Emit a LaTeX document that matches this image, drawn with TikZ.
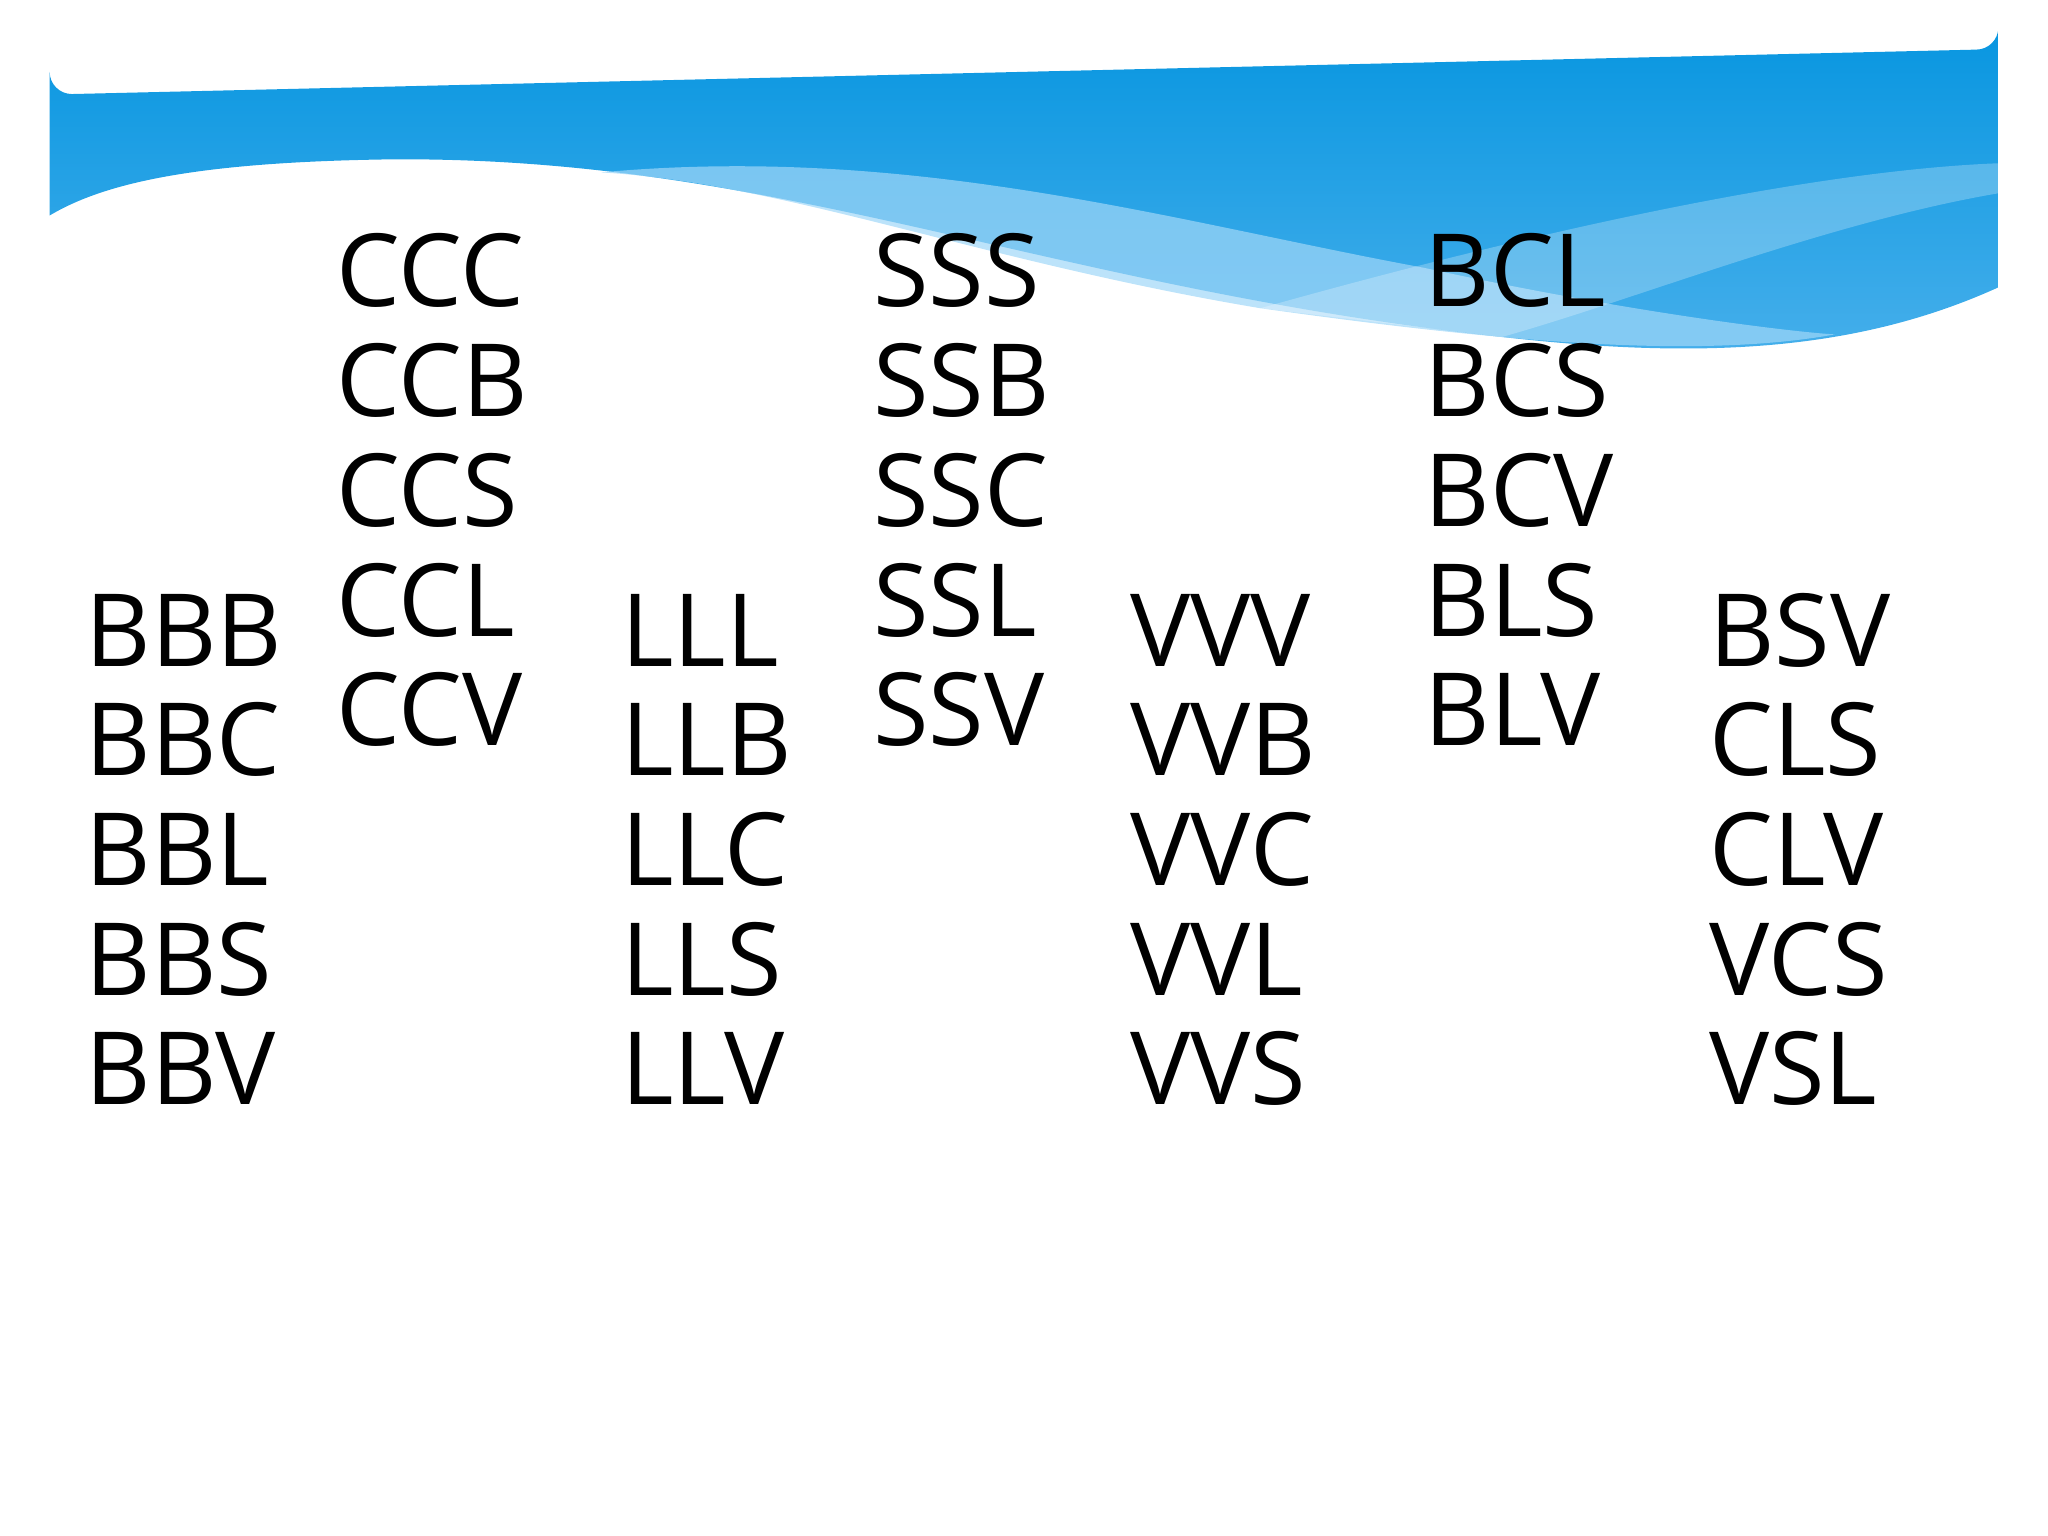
\documentclass[tikz,border=0pt]{standalone}
\usepackage{fontspec}
\setmainfont{Open Sans}
\definecolor{topblue}{RGB}{8,150,224}
\definecolor{midblue}{RGB}{70,175,235}
\definecolor{paleblue}{RGB}{160,215,248}
\tikzset{word/.style={anchor=base west,inner sep=0pt,font=\fontsize{22}{26}\selectfont}}
\begin{document}
\begin{tikzpicture}[x=0.01cm,y=-0.01cm]
\useasboundingbox (0,0) rectangle (1568,1176);
% banner
\shade[top color=topblue,bottom color=midblue]
 (38,165) -- (38,55) arc[start angle=180,end angle=90,radius=17] -- (1513,38)
 arc[start angle=90,end angle=0,radius=17] -- (1530,220)
 .. controls (1420,270) and (1300,275) .. (1150,258)
 .. controls (800,220) and (600,120) .. (300,122)
 .. controls (150,124) and (80,140) .. (38,165) -- cycle;
\fill[paleblue,opacity=0.7]
 (460,132) .. controls (700,110) and (900,170) .. (1090,205)
 .. controls (1250,240) and (1380,255) .. (1405,256)
 .. controls (1300,275) and (1150,262) .. (965,236)
 .. controls (750,200) and (600,140) .. (460,132) -- cycle;
\fill[white,opacity=0.25]
 (965,236) .. controls (1200,170) and (1400,130) .. (1530,125)
 -- (1530,148) .. controls (1400,170) and (1250,230) .. (1150,258) -- cycle;
% columns
\foreach \x/\y/\list in {65/510/{BBB,BBC,BBL,BBS,BBV},257/235/{CCC,CCB,CCS,CCL,CCV},
 475/510/{LLL,LLB,LLC,LLS,LLV},668/235/{SSS,SSB,SSC,SSL,SSV},
 865/510/{VVV,VVB,VVC,VVL,VVS},1090/235/{BCL,BCS,BCV,BLS,BLV},
 1308/510/{BSV,CLS,CLV,VCS,VSL}}{
 \foreach \w [count=\i from 0] in \list
  \node[word] (w\w) at (\x,\y+84*\i) {\w};
}
\end{tikzpicture}
\end{document}
